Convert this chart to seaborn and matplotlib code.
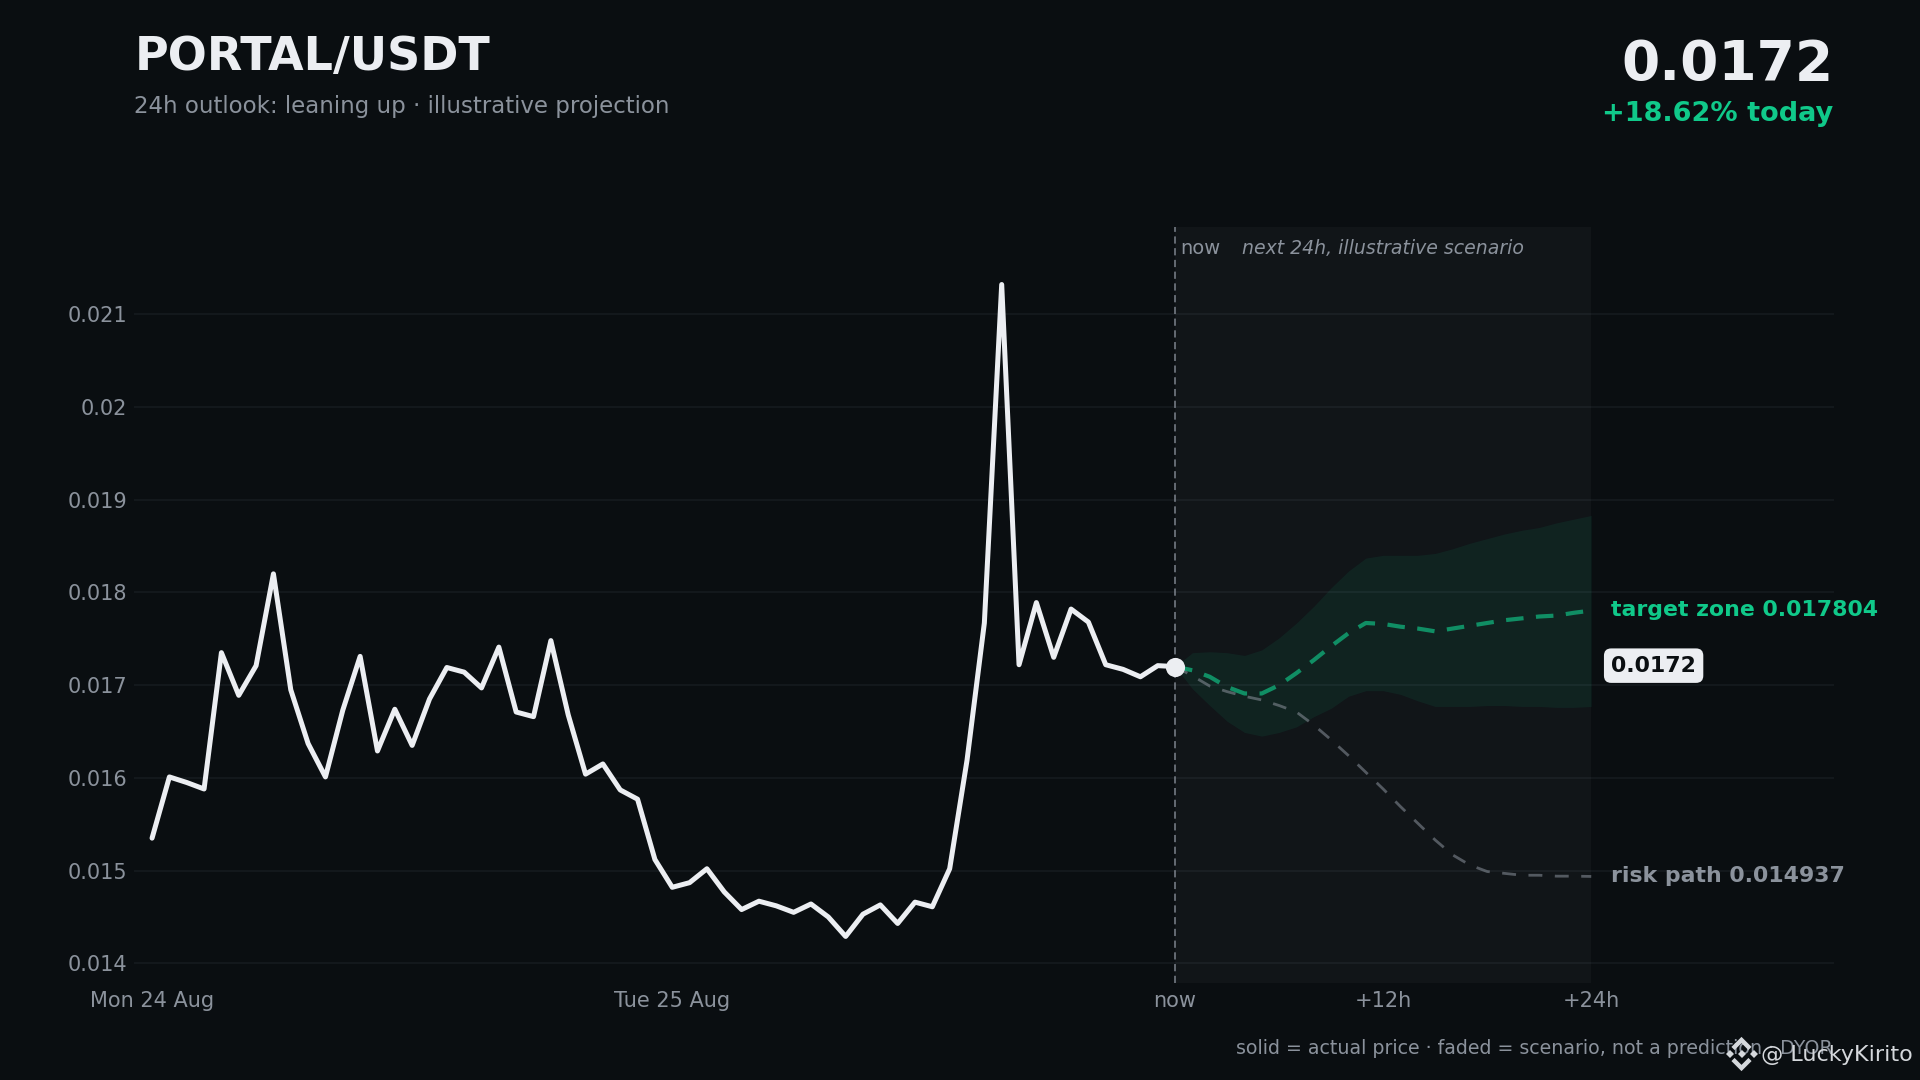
import numpy as np
import pandas as pd
import matplotlib
matplotlib.use("Agg")
import matplotlib.pyplot as plt
from matplotlib.lines import Line2D
import seaborn as sns

# -----------------------------
# DATA
# -----------------------------
price = [0.01535, 0.01601, 0.01595, 0.01588, 0.01735, 0.01689, 0.01721, 0.01820, 0.01695, 0.01637,
         0.01601, 0.01673, 0.01731, 0.01629, 0.01674, 0.01635, 0.01685, 0.01719, 0.01714, 0.01697,
         0.01741, 0.01671, 0.01666, 0.01748, 0.01668, 0.01604, 0.01615, 0.01587, 0.01577, 0.01512,
         0.01482, 0.01487, 0.01502, 0.01477, 0.01458, 0.01467, 0.01462, 0.01455, 0.01464, 0.01450,
         0.01429, 0.01453, 0.01463, 0.01443, 0.01466, 0.01461, 0.01502, 0.01619, 0.01767, 0.02132,
         0.01722, 0.01789, 0.01730, 0.01782, 0.01768, 0.01722, 0.01717, 0.01709, 0.01721, 0.0172]

target_path = [0.0172, 0.01716, 0.01709, 0.01698, 0.01691, 0.01691, 0.01700, 0.01713, 0.01727, 0.01742,
               0.01756, 0.01767, 0.01766, 0.01763, 0.01761, 0.01758, 0.01761, 0.01764, 0.01767, 0.01770,
               0.01772, 0.01774, 0.01775, 0.01778, 0.017804]
band_upper = [0.0172, 0.01735, 0.01736, 0.01735, 0.01732, 0.01738, 0.01751, 0.01767, 0.01785, 0.01805,
              0.01823, 0.01837, 0.01840, 0.01840, 0.01840, 0.01842, 0.01847, 0.01853, 0.01858, 0.01863,
              0.01867, 0.01870, 0.01875, 0.01879, 0.01883]
band_lower = [0.0172, 0.01696, 0.01678, 0.01661, 0.01649, 0.01645, 0.01649, 0.01655, 0.01666, 0.01675,
              0.01688, 0.01694, 0.01694, 0.01690, 0.01683, 0.01677, 0.01677, 0.01677, 0.01678, 0.01678,
              0.01677, 0.01677, 0.01676, 0.01676, 0.01677]
risk_path = [0.0172, 0.01710, 0.01699, 0.01693, 0.01688, 0.01684, 0.01678, 0.01671, 0.01657, 0.01641,
             0.01624, 0.01606, 0.01588, 0.01569, 0.01551, 0.01533, 0.01517, 0.01506, 0.01499, 0.01497,
             0.01495, 0.01495, 0.01494, 0.01494, 0.014937]

y_ticks = [0.014, 0.015, 0.016, 0.017, 0.018, 0.019, 0.02, 0.021]
y_labels = ["0.014", "0.015", "0.016", "0.017", "0.018", "0.019", "0.02", "0.021"]
x_ticks = [0, 30, 59, 71, 83]
x_labels = ["Mon 24 Aug", "Tue 25 Aug", "now", "+12h", "+24h"]

hist_x = np.arange(len(price))
fc_x = np.arange(len(target_path)) + len(price) - 1

BG = "#0a0e11"
WHITE = "#eceef2"
GREEN = "#10c98a"
GREY = "#8b929c"
GRID = "#14191d"
MARK = "#d5d8dc"

# -----------------------------
# FIGURE
# -----------------------------
sns.set_theme(style="dark", rc={"axes.facecolor": BG, "figure.facecolor": BG})
plt.rcParams["font.family"] = ["DejaVu Sans"]

fig = plt.figure(figsize=(19.2, 10.8), dpi=100)
ax = fig.add_axes([133.5 / 1920, 1 - 983 / 1080, (1834 - 133.5) / 1920, (983 - 227) / 1080])


def px(x, y):
    return x / 1920, 1 - y / 1080


ax.axvspan(59, 83, color="#ffffff", alpha=0.03, lw=0, zorder=1)
ax.fill_between(fc_x, band_lower, band_upper, color=GREEN, alpha=0.08, lw=0, zorder=2)

sns.lineplot(x=fc_x, y=risk_path, ax=ax, color=GREY, alpha=0.55, lw=2.0, zorder=3,
             linestyle=(0, (5, 4.5)), estimator=None, errorbar=None)
sns.lineplot(x=fc_x, y=target_path, ax=ax, color=GREEN, alpha=0.65, lw=3.0, zorder=4,
             linestyle=(0, (4.2, 3)), estimator=None, errorbar=None)
sns.lineplot(x=hist_x, y=price, ax=ax, color=WHITE, lw=3.6, zorder=5,
             estimator=None, errorbar=None)
sns.scatterplot(x=[hist_x[-1]], y=[price[-1]], ax=ax, color=WHITE, s=190, lw=0, zorder=6)

ax.axvline(59, color=GREY, alpha=0.75, lw=1.3, ls=(0, (4, 2.5)), zorder=3)

ax.set_xlim(-1.07, 97)
ax.set_ylim(0.013788, 0.02194)
ax.set_yticks(y_ticks)
ax.set_yticklabels(y_labels)
ax.set_xticks(x_ticks)
ax.set_xticklabels(x_labels)
ax.grid(axis="y", color=GRID, lw=1.4)
ax.grid(axis="x", visible=False)
ax.tick_params(axis="both", length=0, colors=GREY, labelsize=15)
ax.tick_params(axis="y", pad=4.5)
ax.tick_params(axis="x", pad=6)
ax.set_xlabel("")
ax.set_ylabel("")
sns.despine(ax=ax, left=True, bottom=True)

# labels next to the forecast
ax.text(84.15, 0.017815, "target zone 0.017804", color=GREEN, fontsize=15.8, fontweight="bold", va="center")
ax.text(84.15, 0.01494, "risk path 0.014937", color=GREY, fontsize=15.8, fontweight="bold", va="center")
ax.text(84.15, 0.01721, "0.0172", color=BG, fontsize=15.8, fontweight="bold", va="center",
        bbox=dict(boxstyle="round,pad=0.33", fc=WHITE, ec="none"))

ax.text(59.3, 0.02171, "now", color=GREY, fontsize=14, va="center")
ax.text(62.85, 0.02171, "next 24h, illustrative scenario", color=GREY, fontsize=13.6,
        style="italic", va="center")

# header and footer
x0, y0 = px(134.5, 57)
fig.text(x0, y0, "PORTAL/USDT", color=WHITE, fontsize=33.1, fontweight="bold", va="center")
x0, y0 = px(134.5, 106)
fig.text(x0, y0, "24h outlook: leaning up · illustrative projection", color=GREY, fontsize=16.5, va="center")
x0, y0 = px(1833, 65)
fig.text(x0, y0, "0.0172", color=WHITE, fontsize=39.6, fontweight="bold", ha="right", va="center")
x0, y0 = px(1833, 114)
fig.text(x0, y0, "+18.62% today", color=GREEN, fontsize=19.5, fontweight="bold", ha="right", va="center")
x0, y0 = px(1833, 1048)
fig.text(x0, y0, "solid = actual price · faded = scenario, not a prediction · DYOR", color=GREY,
         fontsize=13.7, ha="right", va="center")
x0, y0 = px(1761, 1055)
fig.text(x0, y0, "@ LuckyKirito", color=MARK, fontsize=16, va="center", zorder=10)


# exchange logo in front of the footer, drawn in figure pixels
def logo_line(xs, ys, lw):
    coords = [px(a, b) for a, b in zip(xs, ys)]
    fig.add_artist(Line2D([c[0] for c in coords], [c[1] for c in coords], color=MARK, lw=lw,
                          solid_joinstyle="miter", solid_capstyle="butt", zorder=10))


lx, ly = 1741.5, 1054
for sign in (-1, 1):
    logo_line([lx - 8.5, lx, lx + 8.5], [ly + sign * 5.5, ly + sign * 14, ly + sign * 5.5], 3.2)
    fig.add_artist(Line2D([px(lx + sign * 12, ly)[0]], [px(lx, ly)[1]], marker="D", ms=4.5, color=MARK,
                          mew=0, zorder=10))
fig.add_artist(Line2D([px(lx, ly)[0]], [px(lx, ly)[1]], marker="D", ms=4.5, color=MARK, mew=0, zorder=10))

fig.savefig("out.png", dpi=100, facecolor=BG)
